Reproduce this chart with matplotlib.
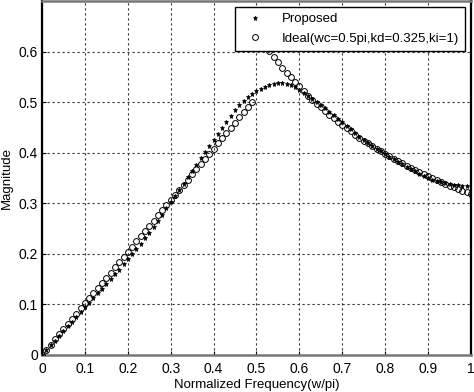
import matplotlib
matplotlib.use("Agg")
import matplotlib.pyplot as plt

plt.rcParams['font.family'] = ['Liberation Sans', 'DejaVu Sans']

freq = [i / 100 for i in range(101)]

proposed = [
    0.000, 0.010, 0.019, 0.028, 0.038, 0.047, 0.057, 0.066, 0.075, 0.085,
    0.094, 0.103, 0.113, 0.122, 0.131, 0.141, 0.150, 0.160, 0.169, 0.179,
    0.189, 0.199, 0.209, 0.220, 0.231, 0.242, 0.253, 0.265, 0.277, 0.290,
    0.302, 0.314, 0.327, 0.339, 0.352, 0.364, 0.376, 0.389, 0.401, 0.413,
    0.425, 0.437, 0.449, 0.461, 0.473, 0.484, 0.494, 0.503, 0.511, 0.517,
    0.522, 0.527, 0.530, 0.533, 0.535, 0.537, 0.537, 0.536, 0.534, 0.530,
    0.525, 0.519, 0.513, 0.507, 0.501, 0.495, 0.488, 0.481, 0.474, 0.467,
    0.460, 0.453, 0.446, 0.439, 0.432, 0.426, 0.420, 0.414, 0.408, 0.403,
    0.398, 0.392, 0.387, 0.382, 0.377, 0.372, 0.367, 0.363, 0.358, 0.354,
    0.350, 0.347, 0.344, 0.342, 0.340, 0.338, 0.337, 0.336, 0.335, 0.334,
    0.333,
]

ideal = [
    0.000, 0.010, 0.020, 0.031, 0.041, 0.051, 0.061, 0.071, 0.082, 0.092,
    0.102, 0.112, 0.123, 0.133, 0.143, 0.153, 0.163, 0.174, 0.184, 0.194,
    0.204, 0.214, 0.225, 0.235, 0.245, 0.255, 0.265, 0.276, 0.286, 0.296,
    0.306, 0.317, 0.327, 0.337, 0.347, 0.357, 0.368, 0.378, 0.388, 0.398,
    0.408, 0.419, 0.429, 0.439, 0.449, 0.459, 0.470, 0.480, 0.490, 0.500,
    0.637, 0.624, 0.612, 0.601, 0.589, 0.579, 0.568, 0.558, 0.549, 0.540,
    0.531, 0.522, 0.513, 0.505, 0.497, 0.490, 0.482, 0.475, 0.468, 0.461,
    0.455, 0.448, 0.442, 0.436, 0.430, 0.424, 0.419, 0.413, 0.408, 0.403,
    0.398, 0.393, 0.388, 0.383, 0.379, 0.374, 0.370, 0.366, 0.362, 0.358,
    0.354, 0.350, 0.346, 0.342, 0.339, 0.335, 0.332, 0.328, 0.325, 0.322,
    0.318,
]

xticks = [0, 0.1, 0.2, 0.3, 0.4, 0.5, 0.6, 0.7, 0.8, 0.9, 1]
xticklabels = ['0', '0.1', '0.2', '0.3', '0.4', '0.5', '0.6', '0.7', '0.8', '0.9', '1']
yticks = [0, 0.1, 0.2, 0.3, 0.4, 0.5, 0.6]
yticklabels = ['0', '0.1', '0.2', '0.3', '0.4', '0.5', '0.6']

fig = plt.figure(figsize=(4.74, 3.92), dpi=100)
ax = fig.add_axes([0.0886, 0.0944, 0.905, 0.903])

ax.plot(freq, proposed, linestyle='none', marker='*', markersize=3.6,
        color='black', markeredgewidth=0.5, label='Proposed', zorder=3)
ax.plot(freq, ideal, linestyle='none', marker='o', markersize=4.2,
        markerfacecolor='none', markeredgecolor='black', markeredgewidth=0.7,
        label='Ideal(wc=0.5pi,kd=0.325,ki=1)', zorder=3)

ax.set_xlim(0, 1)
ax.set_ylim(0, 0.7)
ax.set_xticks(xticks)
ax.set_xticklabels(xticklabels)
ax.set_yticks(yticks)
ax.set_yticklabels(yticklabels)
ax.tick_params(direction='in', length=3, labelsize=10, colors='black')
ax.tick_params(axis='x', pad=5)
ax.tick_params(axis='y', pad=3)

ax.grid(True, linestyle=(0, (2, 2.5)), color='#333333', linewidth=0.8)
ax.set_axisbelow(True)

for s in ['left', 'right']:
    ax.spines[s].set_linewidth(1.6)
    ax.spines[s].set_color('black')
for s in ['top', 'bottom']:
    ax.spines[s].set_linewidth(1.8)
    ax.spines[s].set_color('#777777')

ax.set_xlabel('Normalized Frequency(w/pi)', fontsize=9.5, labelpad=2)
ax.set_ylabel('Magnitude', fontsize=9.5, labelpad=4)

leg = ax.legend(loc='upper right', fontsize=9.5, frameon=True, fancybox=False,
                edgecolor='black', framealpha=1, borderaxespad=0.45,
                handlelength=2.2, handletextpad=0.9, borderpad=0.45,
                labelspacing=0.55)
leg.get_frame().set_linewidth(1.0)
leg.set_zorder(5)

fig.savefig('out.png', dpi=100)
